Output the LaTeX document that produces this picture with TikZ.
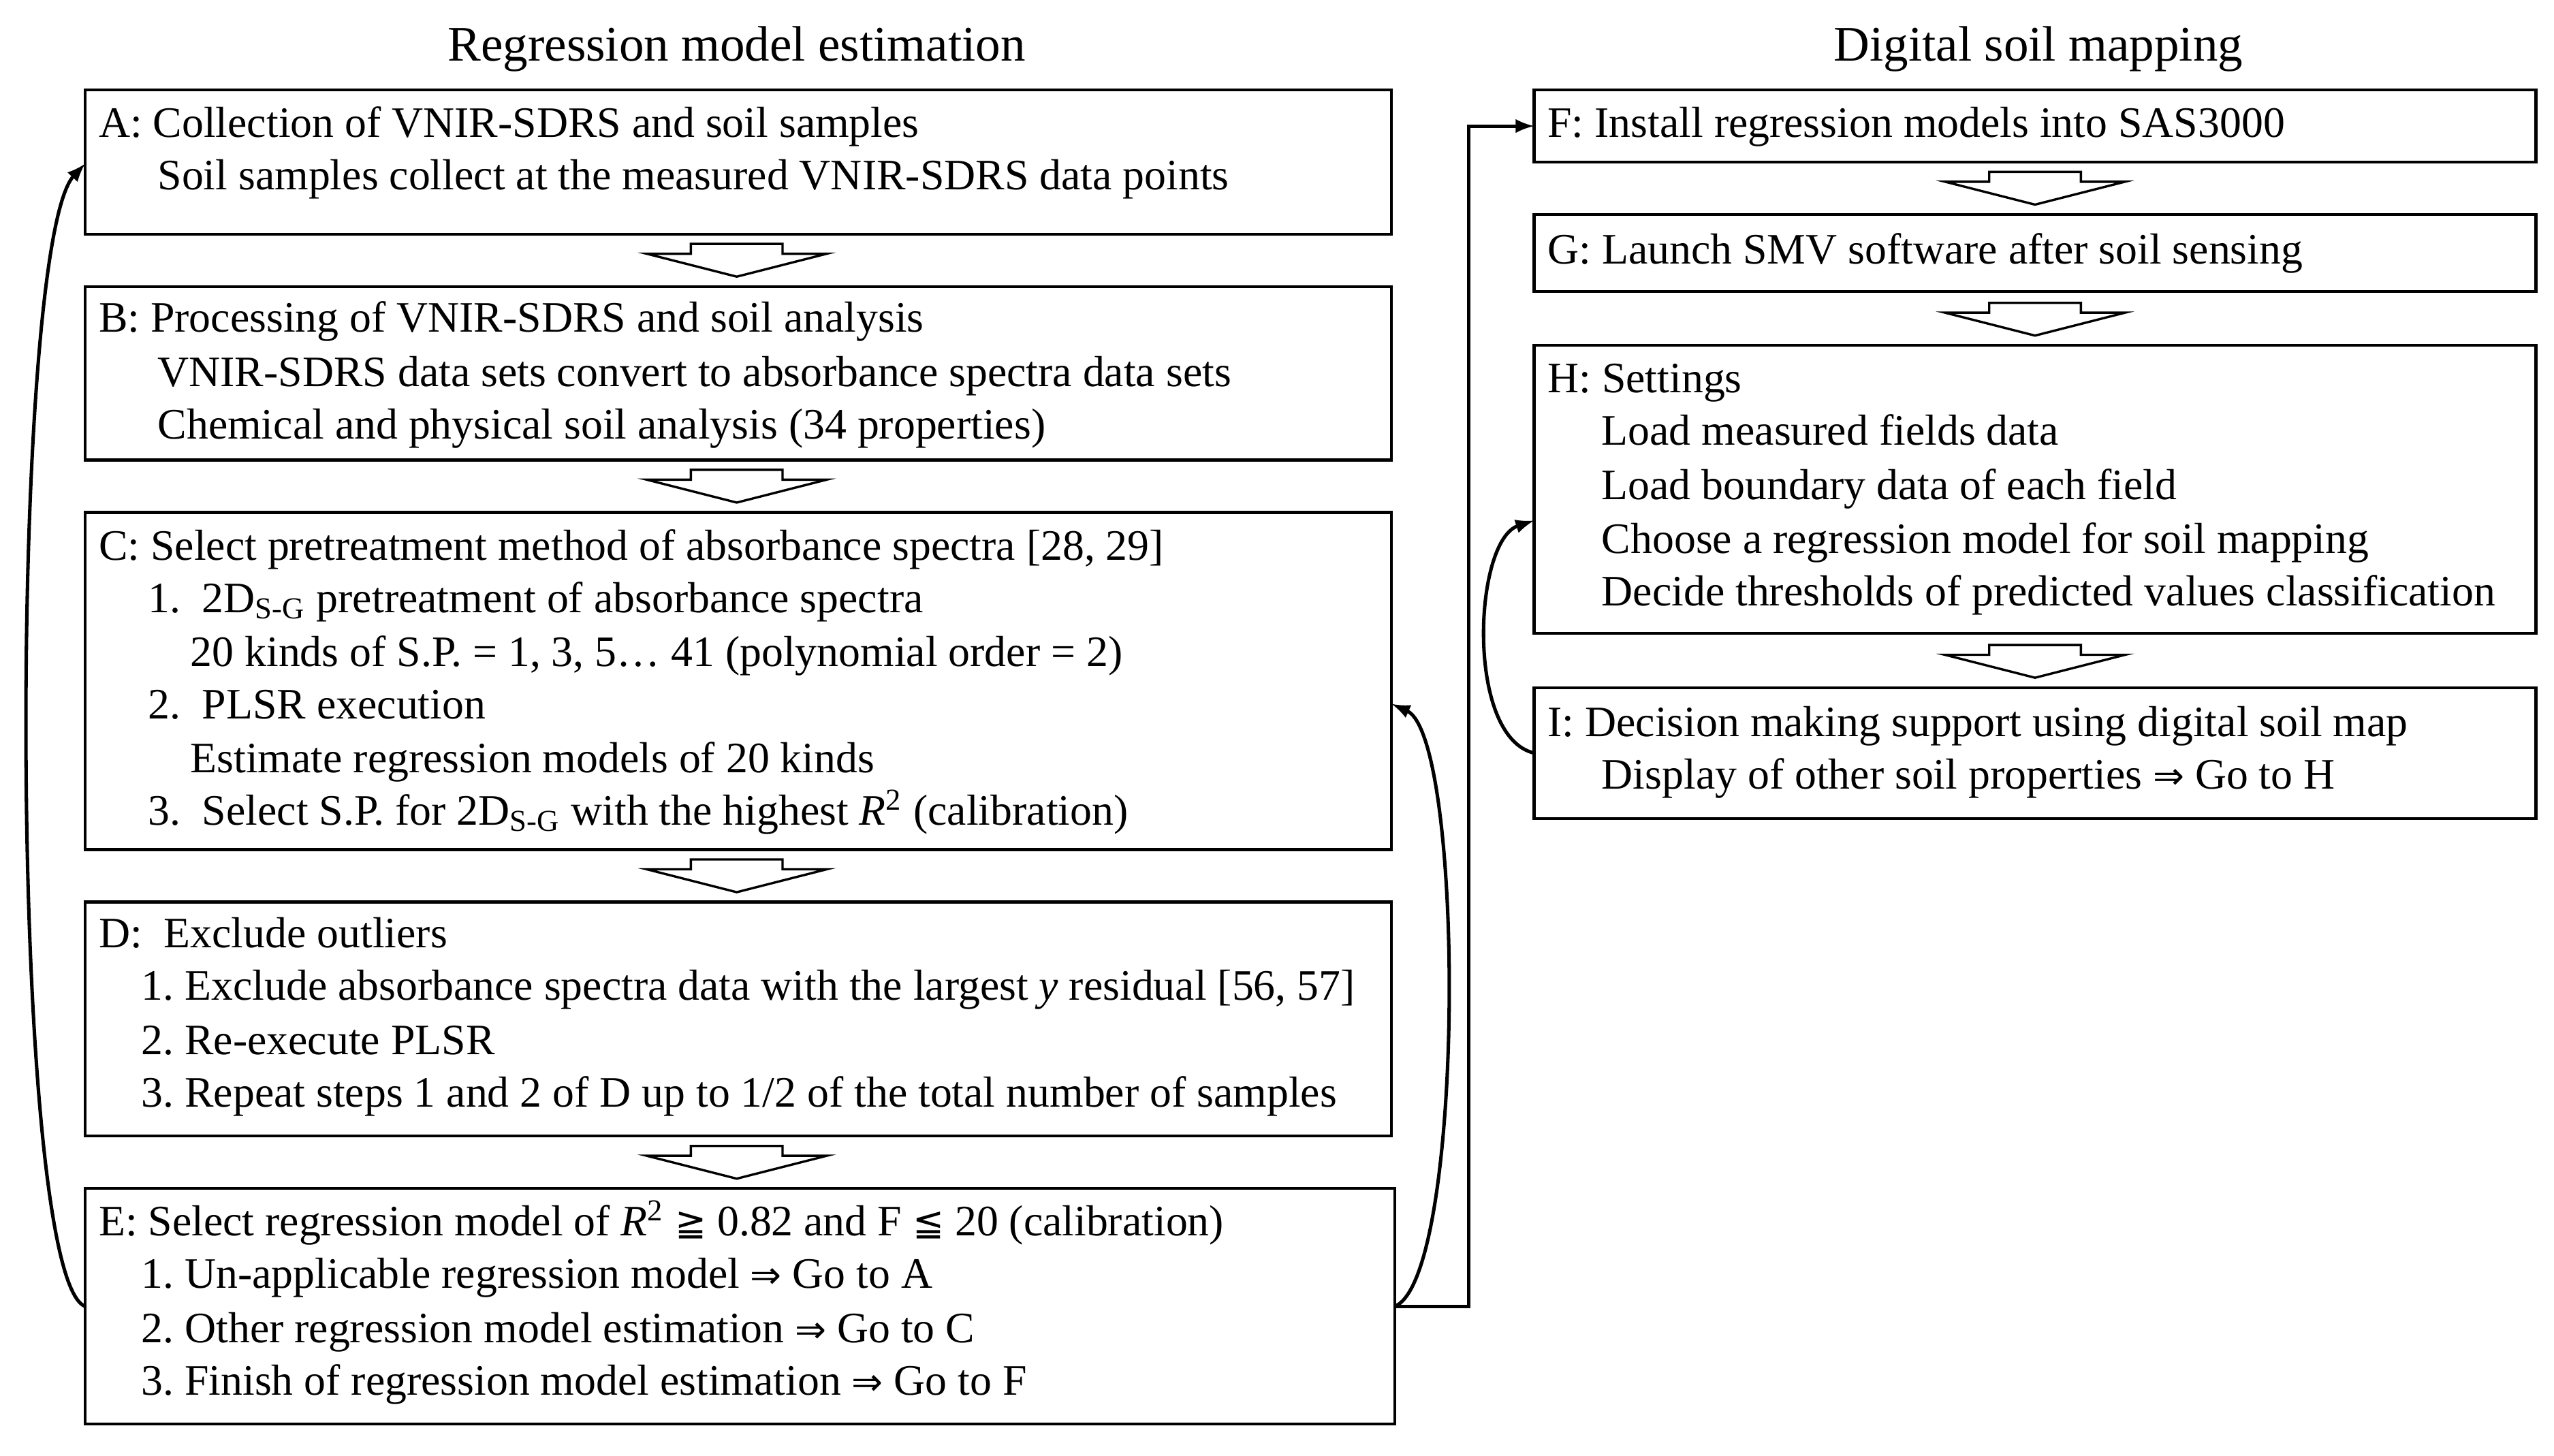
\documentclass[tikz,border=0pt]{standalone}
\usepackage{fontspec}
\setmainfont{Liberation Serif}
\newfontfamily\symf{DejaVu Sans}
\begin{document}
\begin{tikzpicture}[x=0.02cm,y=-0.02cm,
  bx/.style={draw,line width=1pt},
  tx/.style={anchor=base west,inner sep=0pt,font=\fontsize{15.1}{18}\selectfont},
  ttl/.style={inner sep=0pt,font=\fontsize{17.3}{20}\selectfont},
  con/.style={line width=1.2pt,-latex}]
\useasboundingbox (0,0) rectangle (1560,889);
\newcommand{\tl}[3]{\node[tx] at (#1,#2+7) {#3};}
\newcommand{\barrow}[2]{\draw[line width=0.8pt,fill=white] (#1-28,#2-10) -- (#1+28,#2-10) -- (#1+28,#2-4) -- (#1+55,#2-4) -- (#1,#2+10) -- (#1-55,#2-4) -- (#1-28,#2-4) -- cycle;}
\newcommand{\imp}{{\symf\fontsize{13}{16}\selectfont ⇒}}
\node[ttl] (t1) at (450,30) {Regression model estimation};
\node[ttl] (t2) at (1245,30) {Digital soil mapping};
\draw[bx] (52,55) rectangle (850,143);
\coordinate (A) at (52,100);
\draw[bx] (52,175) rectangle (850,281);
\draw[bx] (52,313) rectangle (850,519);
\coordinate (C) at (850,430);
\draw[bx] (52,551) rectangle (850,694);
\draw[bx] (52,726) rectangle (852,870);
\coordinate (El) at (52,798); \coordinate (Er) at (852,798);
\draw[bx] (937,55) rectangle (1549,99);
\coordinate (F) at (937,77);
\draw[bx] (937,131) rectangle (1549,178);
\draw[bx] (937,211) rectangle (1549,387);
\coordinate (H) at (937,318);
\draw[bx] (937,420) rectangle (1549,500);
\coordinate (I) at (937,460);
\barrow{450}{159}\barrow{450}{297}\barrow{450}{535}\barrow{450}{710}
\barrow{1243}{115}\barrow{1243}{195}\barrow{1243}{404}
\tl{60}{77}{A: Collection of VNIR-SDRS and soil samples}
\tl{96}{109}{Soil samples collect at the measured VNIR-SDRS data points}
\tl{60}{196}{B: Processing of VNIR-SDRS and soil analysis}
\tl{96}{229}{VNIR-SDRS data sets convert to absorbance spectra data sets}
\tl{96}{261}{Chemical and physical soil analysis (34 properties)}
\tl{60}{335}{C: Select pretreatment method of absorbance spectra [28, 29]}
\tl{90}{367}{1.\ \ 2D\textsubscript{S-G} pretreatment of absorbance spectra}
\tl{116}{400}{20 kinds of S.P. = 1, 3, 5… 41 (polynomial order = 2)}
\tl{90}{432}{2.\ \ PLSR execution}
\tl{116}{465}{Estimate regression models of 20 kinds}
\tl{90}{497}{3.\ \ Select S.P. for 2D\textsubscript{S-G} with the highest \textit{R}\textsuperscript{2} (calibration)}
\tl{60}{572}{D:\ \ Exclude outliers}
\tl{86}{604}{1.\ Exclude absorbance spectra data with the largest \textit{y} residual [56, 57]}
\tl{86}{637}{2.\ Re-execute PLSR}
\tl{86}{669}{3.\ Repeat steps 1 and 2 of D up to 1/2 of the total number of samples}
\tl{60}{748}{E: Select regression model of \textit{R}\textsuperscript{2} {\symf\fontsize{13}{16}\selectfont ≧} 0.82 and F {\symf\fontsize{13}{16}\selectfont ≦} 20 (calibration)}
\tl{86}{780}{1.\ Un-applicable regression model \imp{} Go to A}
\tl{86}{813}{2.\ Other regression model estimation \imp{} Go to C}
\tl{86}{845}{3.\ Finish of regression model estimation \imp{} Go to F}
\tl{945}{77}{F: Install regression models into SAS3000}
\tl{945}{154}{G: Launch SMV software after soil sensing}
\tl{945}{233}{H: Settings}
\tl{978}{265}{Load measured fields data}
\tl{978}{298}{Load boundary data of each field}
\tl{978}{331}{Choose a regression model for soil mapping}
\tl{978}{363}{Decide thresholds of predicted values classification}
\tl{945}{443}{I: Decision making support using digital soil map}
\tl{978}{475}{Display of other soil properties \imp{} Go to H}
\draw[con] (El) .. controls (5,780) and (5,150) .. (A);
\draw[con] (Er) .. controls (895,780) and (895,450) .. (C);
\draw[con] (Er) -- (897,798) -- (897,77) -- (F);
\draw[con] (I) .. controls (895,450) and (900,330) .. (H);
\end{tikzpicture}
\end{document}
